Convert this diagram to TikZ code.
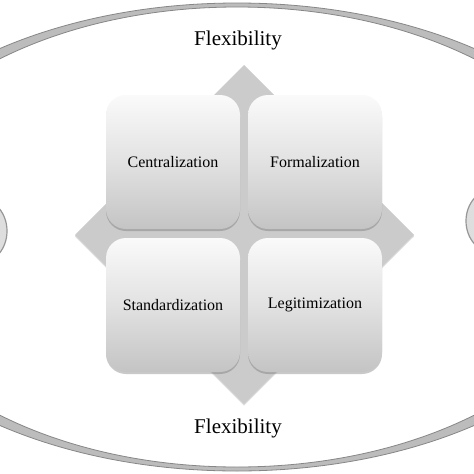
\documentclass[tikz,border=0pt]{standalone}
\usepackage{fontspec}
\setmainfont{Liberation Serif}
\usetikzlibrary{shadows}
\definecolor{diamondgray}{RGB}{203,203,203}
\definecolor{boxbottom}{RGB}{196,196,196}
\definecolor{boxtop}{RGB}{250,250,250}
\definecolor{ringfill}{RGB}{188,188,188}
\definecolor{ringedge}{RGB}{135,135,135}
\definecolor{sidefill}{RGB}{222,222,222}
\definecolor{sideedge}{RGB}{150,150,150}
\tikzset{
  boxnode/.style={rectangle, rounded corners=20pt, minimum width=134pt, minimum height=134pt,
    inner sep=0pt, top color=boxtop, bottom color=boxbottom, middle color=boxtop!55!boxbottom,
    drop shadow={shadow xshift=0pt, shadow yshift=-2pt, opacity=0.35, fill=black!60},
    font=\fontsize{16}{19}\selectfont, text=black},
  flexnode/.style={inner sep=0pt, font=\fontsize{21}{25}\selectfont, text=black},
  ringline/.style={draw=ringedge, line width=0.8pt},
  sideoval/.style={fill=sidefill, draw=sideedge, line width=1.2pt}
}
\begin{document}
\begin{tikzpicture}[x=1pt,y=-1pt]
\useasboundingbox (0,0) rectangle (474,474);
\clip (0,0) rectangle (474,474);
\fill[white] (0,0) rectangle (474,474);
% outer ring
\fill[ringfill, even odd rule] (237,237) ellipse [x radius=400, y radius=234]
  (237,237) ellipse [x radius=375, y radius=230];
\draw[ringline] (237,237) ellipse [x radius=400, y radius=234];
\draw[ringline] (237,237) ellipse [x radius=375, y radius=230];
% side ovals
\draw[sideoval] (-20,231) ellipse [x radius=27, y radius=32];
\draw[sideoval] (494,221) ellipse [x radius=28, y radius=32];
% diamond
\fill[diamondgray, drop shadow={shadow xshift=0pt, shadow yshift=-1.5pt, opacity=0.25}]
  (244,65) -- (414,235) -- (244,404) -- (75,235) -- cycle;
% boxes
\node[boxnode] (c) at (173,162) {Centralization};
\node[boxnode] (f) at (315,162) {Formalization};
\node[boxnode] (s) at (173,305) {Standardization};
\node[boxnode] (l) at (315,305) {Legitimization};
% labels
\node[flexnode] (ft) at (238,40) {Flexibility};
\node[flexnode] (fb) at (238,428) {Flexibility};
\end{tikzpicture}
\end{document}
